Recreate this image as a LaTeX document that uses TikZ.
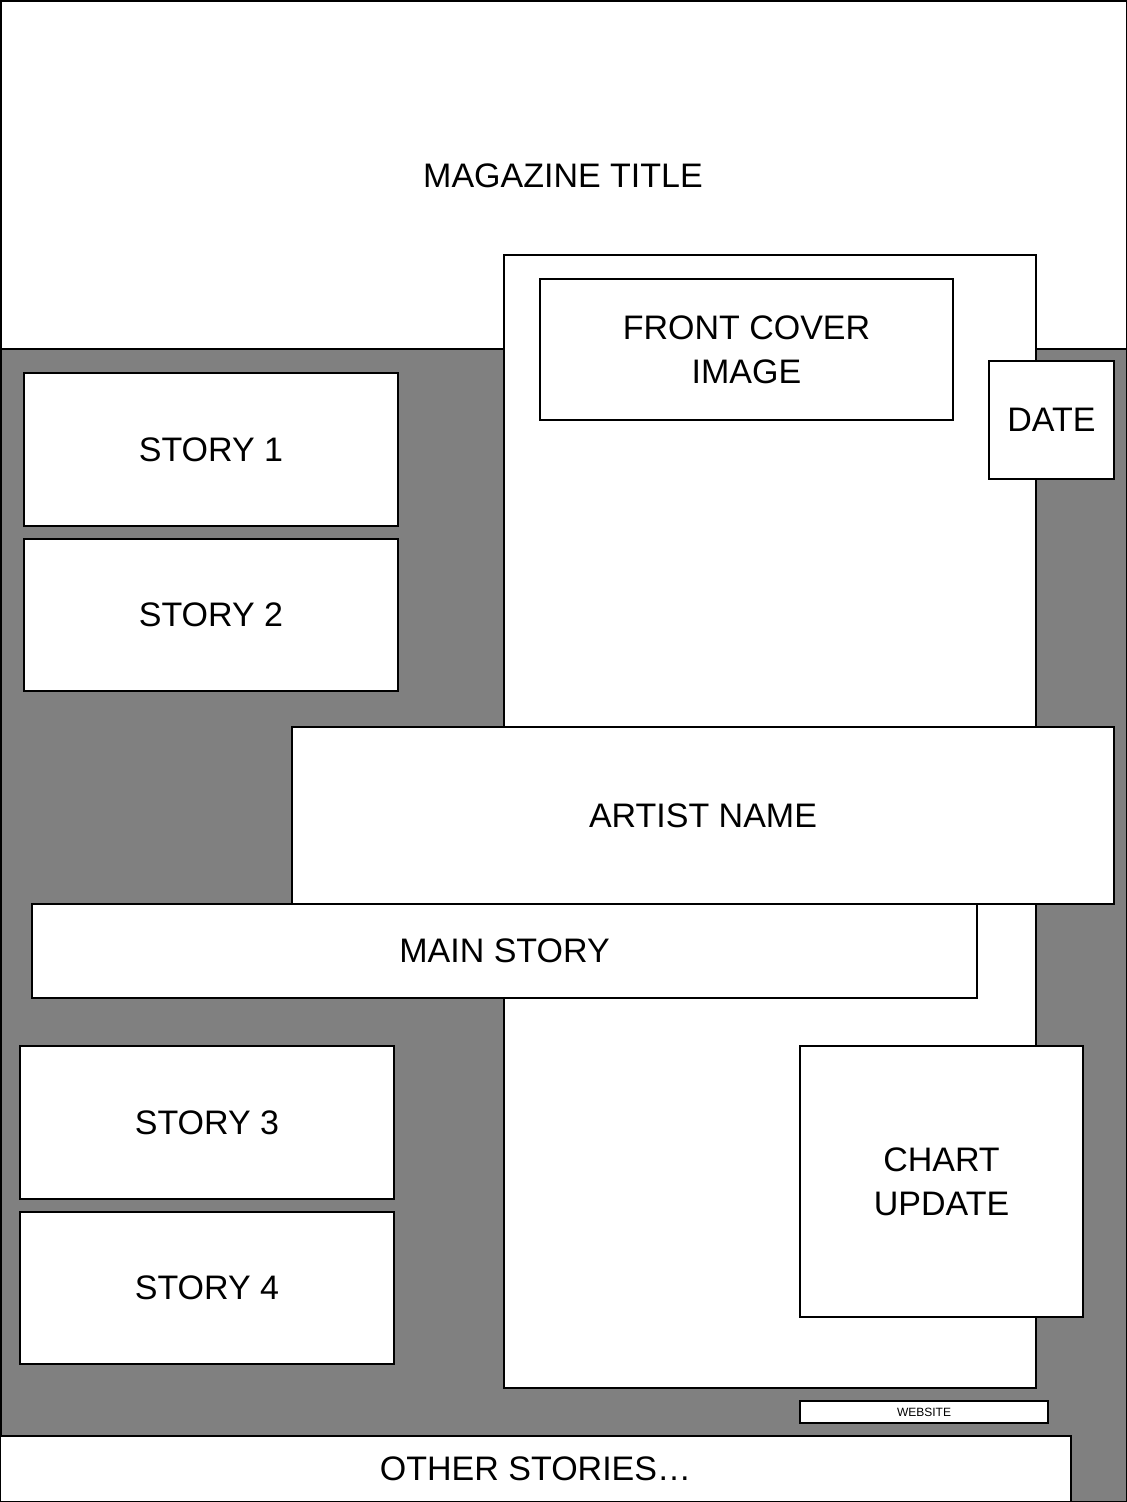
\documentclass[tikz,border=0pt]{standalone}
\usepackage{fontspec}
\setmainfont{Liberation Sans}
\definecolor{bggrey}{HTML}{808080}
\begin{document}
\begin{tikzpicture}[x=1pt,y=-1pt,
  box/.style={draw=black,line width=1.2pt,fill=white},
  lbl/.style={font=\fontsize{34}{44}\selectfont,align=center}]
\useasboundingbox (0,0) rectangle (1127,1502);
\fill[white] (0,0) rectangle (1127,1502);
\fill[bggrey] (0,349) rectangle (1127,1502);
\draw[line width=1.2pt] (0,349) -- (1127,349);
\draw[line width=1.5pt] (0.75,0.75) rectangle (1126.25,1501.25);
\node[lbl] (title) at (563,176) {MAGAZINE TITLE};
\draw[box] (504,255) rectangle (1036,1388);
\draw[box] (540,279) rectangle (953,420);
\node[lbl] (fci) at (746.5,349.5) {FRONT COVER\\IMAGE};
\draw[box] (989,361) rectangle (1114,479);
\node[lbl] (date) at (1051.5,420) {DATE};
\draw[box] (24,373) rectangle (398,526);
\node[lbl] (s1) at (211,449.5) {STORY 1};
\draw[box] (24,539) rectangle (398,691);
\node[lbl] (s2) at (211,615) {STORY 2};
\draw[box] (292,727) rectangle (1114,904);
\node[lbl] (artist) at (703,815.5) {ARTIST NAME};
\draw[box] (32,904) rectangle (977,998);
\node[lbl] (main) at (504.5,951) {MAIN STORY};
\draw[box] (20,1046) rectangle (394,1199);
\node[lbl] (s3) at (207,1122.5) {STORY 3};
\draw[box] (20,1212) rectangle (394,1364);
\node[lbl] (s4) at (207,1288) {STORY 4};
\draw[box] (800,1046) rectangle (1083,1317);
\node[lbl] (chart) at (941.5,1181.5) {CHART\\UPDATE};
\draw[box] (800,1401) rectangle (1048,1423);
\node[font=\fontsize{12}{14}\selectfont] (web) at (924,1412) {WEBSITE};
\draw[box] (0,1436) rectangle (1071,1502);
\node[lbl] (other) at (535.5,1469) {OTHER STORIES…};
\end{tikzpicture}
\end{document}
